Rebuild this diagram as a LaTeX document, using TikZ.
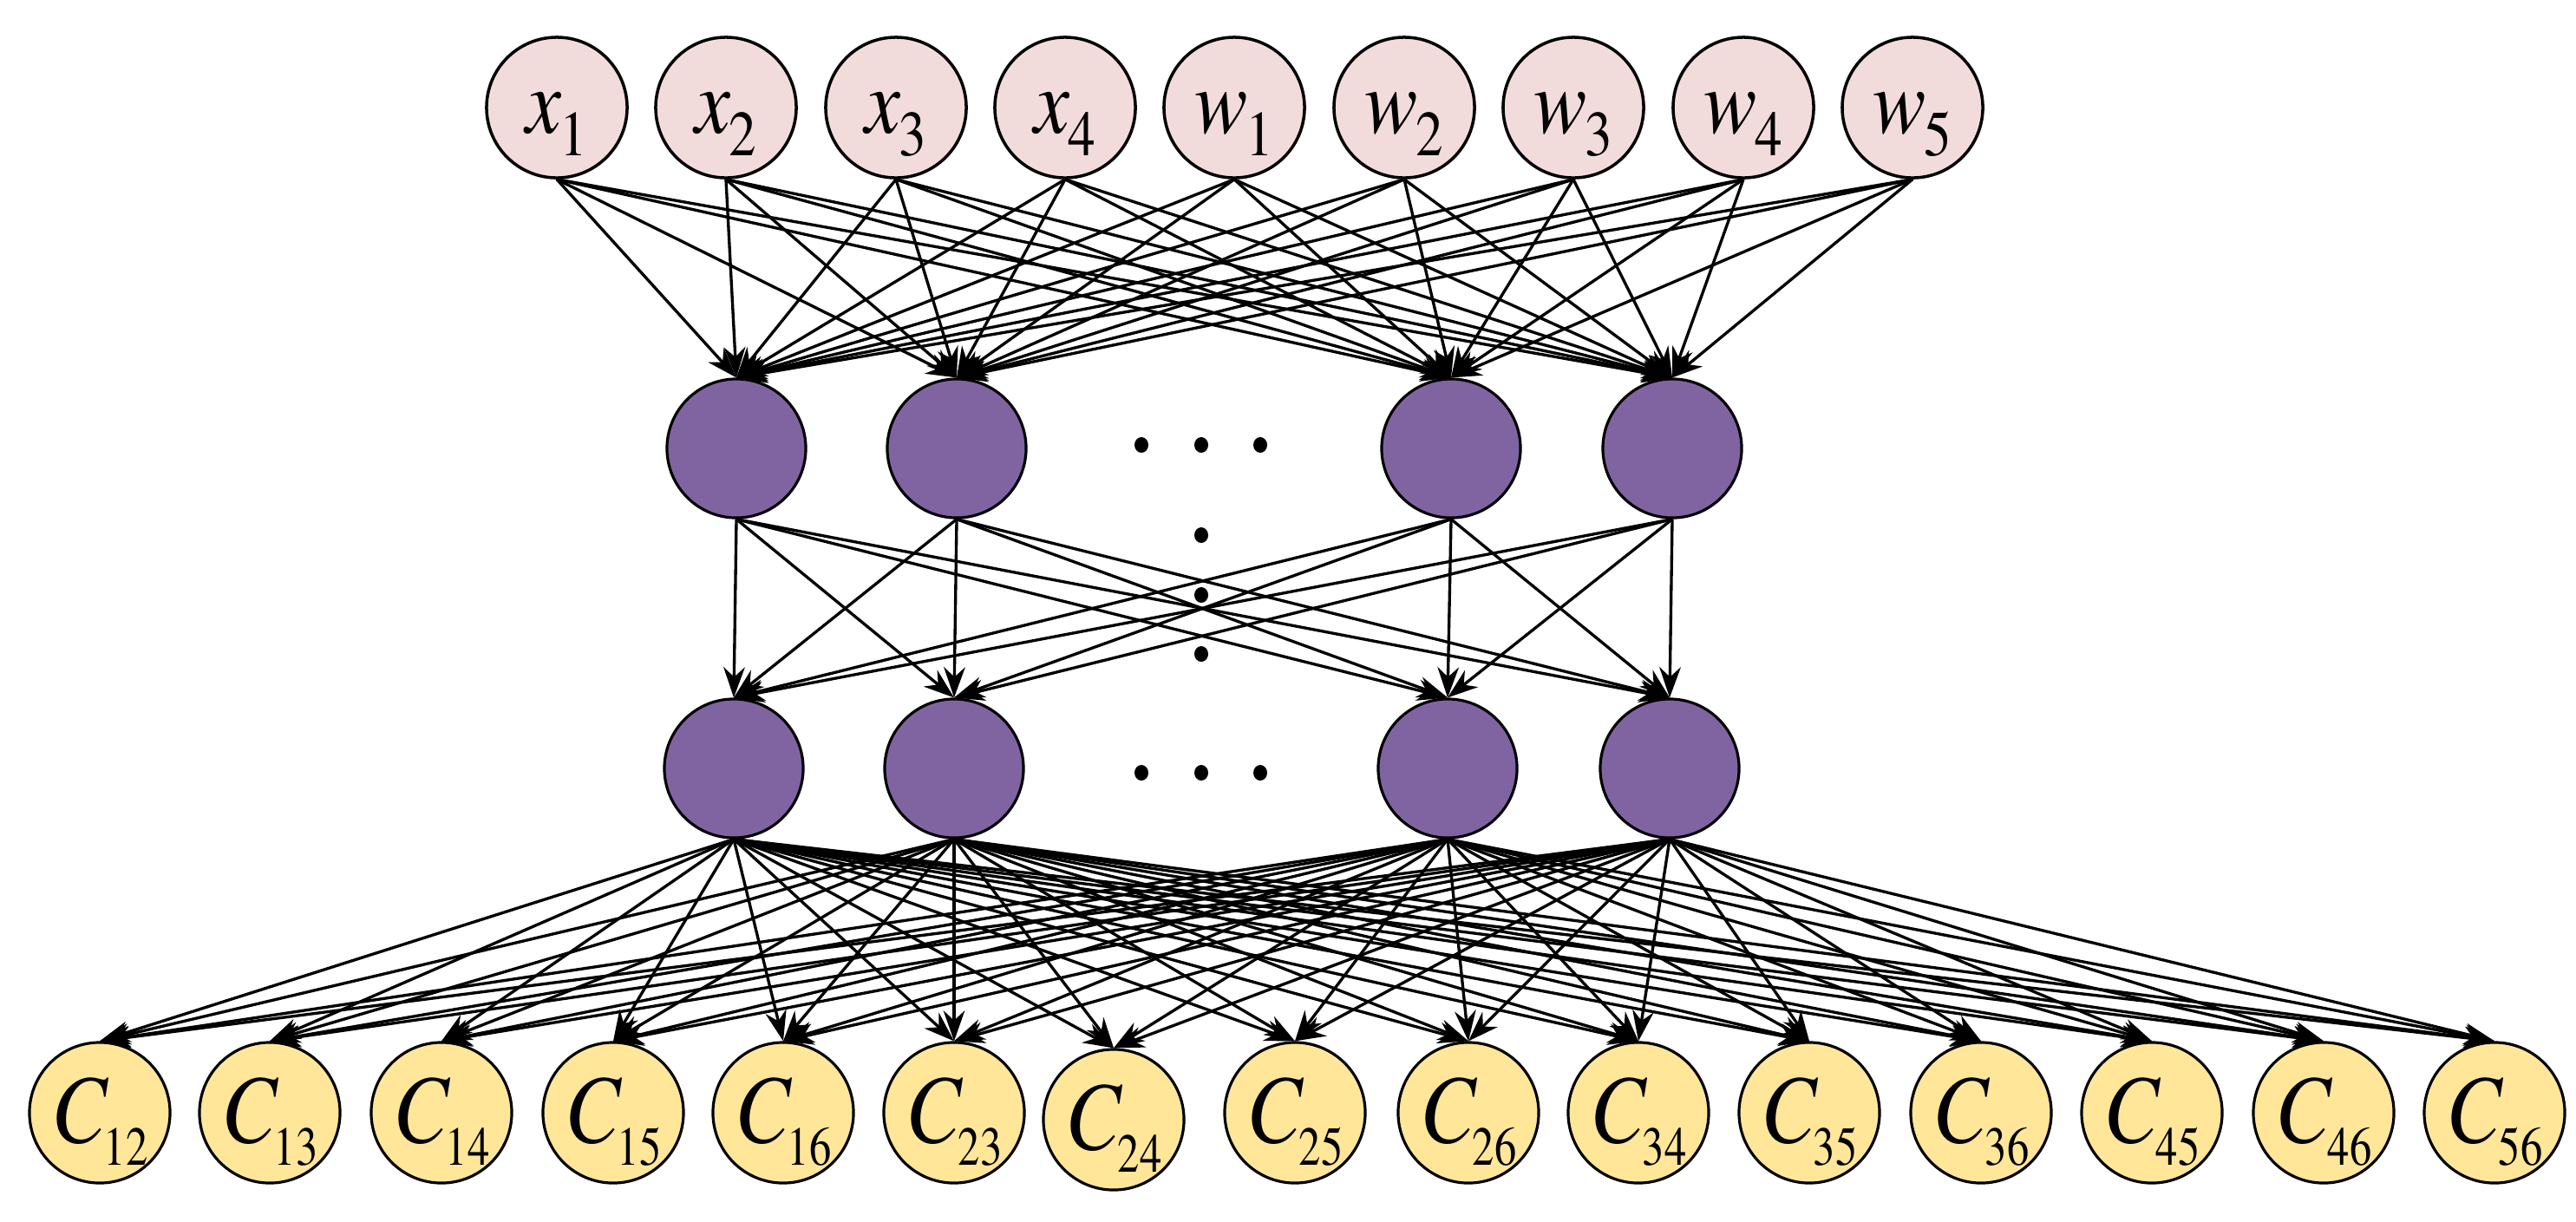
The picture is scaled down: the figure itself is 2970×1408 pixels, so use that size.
\documentclass[tikz,border=0pt]{standalone}
\usepackage{fontspec}
\newfontfamily\timesfam{texgyretermes}[Extension=.otf, UprightFont=*-regular, ItalicFont=*-italic, BoldFont=*-bold, BoldItalicFont=*-bolditalic]
\usetikzlibrary{arrows.meta}
\definecolor{inpink}{HTML}{F2DCDB}
\definecolor{hidpurple}{HTML}{8064A2}
\definecolor{outgold}{HTML}{FFE699}
\newcommand{\toplbl}[2]{\scalebox{0.9}[1.05]{\timesfam\fontsize{29}{29}\selectfont\itshape #1}\kern-0.5pt\raisebox{-7.4pt}{\scalebox{0.9}[1.05]{\timesfam\fontsize{20}{20}\selectfont #2}}}
\newcommand{\botlbl}[1]{\scalebox{0.88}[1.03]{\timesfam\fontsize{31}{31}\selectfont\itshape C}\kern-1pt\raisebox{-7.4pt}{\scalebox{0.8}[1]{\timesfam\fontsize{18}{18}\selectfont #1}}}
\tikzset{
  innode/.style={circle, draw=black, line width=1pt, fill=inpink, minimum size=1.62cm, inner sep=0pt, text height=16.5pt, text depth=0pt},
  hidnode/.style={circle, draw=black, line width=0.9pt, fill=hidpurple, minimum size=1.60cm, inner sep=0pt},
  outnode/.style={circle, draw=black, line width=0.9pt, fill=outgold, minimum size=1.62cm, inner sep=0pt, text height=19.4pt, text depth=0pt},
  arr/.style={line width=0.95pt, -{Stealth[length=10pt,width=7pt]}},
  dotmark/.style={fill=black}
}
\begin{document}
\begin{tikzpicture}[x=0.01cm, y=-0.01cm]
\useasboundingbox (0,0) rectangle (2970,1408);
% input layer
\node[innode] (t1) at (642,124) {\toplbl{x}{1}};
\node[innode] (t2) at (837,124) {\toplbl{x}{2}};
\node[innode] (t3) at (1033,124) {\toplbl{x}{3}};
\node[innode] (t4) at (1228,124) {\toplbl{x}{4}};
\node[innode] (t5) at (1423,124) {\toplbl{w}{1}};
\node[innode] (t6) at (1619,124) {\toplbl{w}{2}};
\node[innode] (t7) at (1814,124) {\toplbl{w}{3}};
\node[innode] (t8) at (2010,124) {\toplbl{w}{4}};
\node[innode] (t9) at (2205,124) {\toplbl{w}{5}};
% hidden layers
\node[hidnode] (h1) at (849,517) {};
\node[hidnode] (h2) at (1103,517) {};
\node[hidnode] (h3) at (1673,517) {};
\node[hidnode] (h4) at (1928,517) {};
\node[hidnode] (g1) at (846,886) {};
\node[hidnode] (g2) at (1100,886) {};
\node[hidnode] (g3) at (1669,886) {};
\node[hidnode] (g4) at (1925,886) {};
% dots
\foreach \xx in {1316,1385,1453} {
  \fill[dotmark] (\xx,513) ellipse (8 and 9);
  \fill[dotmark] (\xx,891) ellipse (8 and 9);
}
\foreach \yy in {617,686,754} {
  \fill[dotmark] (1385,\yy) ellipse (8 and 9);
}
% output layer
\node[outnode] (c12) at (115,1283) {\botlbl{12}};
\node[outnode] (c13) at (311,1283) {\botlbl{13}};
\node[outnode] (c14) at (509,1283) {\botlbl{14}};
\node[outnode] (c15) at (707,1283) {\botlbl{15}};
\node[outnode] (c16) at (903,1283) {\botlbl{16}};
\node[outnode] (c23) at (1100,1283) {\botlbl{23}};
\node[outnode] (c24) at (1284,1291) {\botlbl{24}};
\node[outnode] (c25) at (1493,1283) {\botlbl{25}};
\node[outnode] (c26) at (1693,1283) {\botlbl{26}};
\node[outnode] (c34) at (1889,1283) {\botlbl{34}};
\node[outnode] (c35) at (2086,1283) {\botlbl{35}};
\node[outnode] (c36) at (2284,1283) {\botlbl{36}};
\node[outnode] (c45) at (2481,1283) {\botlbl{45}};
\node[outnode] (c46) at (2679,1283) {\botlbl{46}};
\node[outnode] (c56) at (2876,1283) {\botlbl{56}};
% connectors
\foreach \s in {t1,t2,t3,t4,t5,t6,t7,t8,t9}
  \foreach \d in {h1,h2,h3,h4}
    \draw[arr] (\s.south) -- (\d.north);
\foreach \s in {h1,h2,h3,h4}
  \foreach \d in {g1,g2,g3,g4}
    \draw[arr] (\s.south) -- (\d.north);
\foreach \s in {g1,g2,g3,g4}
  \foreach \d in {c12,c13,c14,c15,c16,c23,c24,c25,c26,c34,c35,c36,c45,c46,c56}
    \draw[arr] (\s.south) -- (\d.north);
\end{tikzpicture}
\end{document}
